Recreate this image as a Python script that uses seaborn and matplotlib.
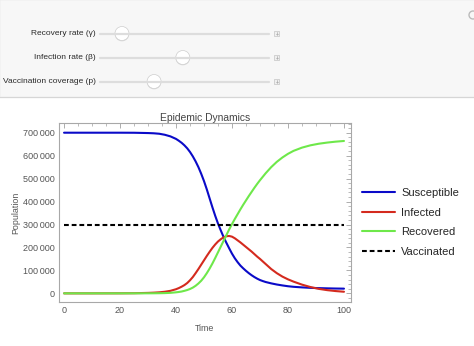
import matplotlib
matplotlib.use("Agg")
import matplotlib.pyplot as plt
from matplotlib.lines import Line2D
from matplotlib.patches import Rectangle, Circle
from matplotlib.ticker import MultipleLocator, FuncFormatter
import pandas as pd
import seaborn as sns

# Epidemic curves (time in days, population in thousands)
time = [0, 10, 20, 25, 30, 32, 34, 36, 38, 40, 41, 42, 43, 44, 45, 46, 47, 48, 49,
        50, 51, 52, 53, 54, 55, 56, 57, 58, 59, 60, 61, 62, 63, 64, 65, 66, 67, 68,
        69, 70, 71, 72, 74, 76, 78, 80, 82, 85, 88, 91, 94, 97, 100]
susceptible = [700, 700, 700, 699.8, 698.5, 697.5, 695.5, 691, 684, 673, 665, 656,
               645, 632, 616, 597, 575, 550, 521, 489, 453, 414, 375, 338, 304, 274,
               245, 220, 196, 173, 153, 136, 121, 109, 98, 88, 79, 71, 64, 58, 53.5,
               49.5, 43.5, 38.5, 34.5, 31, 28.5, 26, 24, 22.8, 21.8, 21, 20.5]
infected = [0, 0, 0.2, 0.6, 2, 3, 4.5, 7, 11, 18, 23, 29, 36, 45, 57, 71, 88, 106,
            125, 144, 163, 181, 198, 213, 226, 236, 244, 249, 250, 247, 240, 231, 222,
            212, 202, 192, 182, 171, 160, 150, 139, 128, 106, 88, 73, 61, 51, 38,
            27.5, 19.5, 14, 10, 7]
recovered = [0, 0, 0, 0.1, 0.2, 0.3, 0.6, 1.1, 2.2, 4.5, 6, 8, 11, 14.5, 19, 25, 33,
             43, 55, 70, 88, 108, 130, 154, 179, 204, 229, 254, 279, 302, 324, 345,
             366, 386, 405, 424, 442, 460, 477, 493, 508, 523, 550, 573, 592, 608,
             621, 635, 645, 652, 657, 661, 664]
vaccinated = 300
series_names = ["Susceptible", "Infected", "Recovered", "Vaccinated"]
series_colors = ["#0a0ac8", "#d42a1e", "#6ee84a", "black"]

slider_labels = ["Recovery rate (\u03b3)", "Infection rate (\u03b2)", "Vaccination coverage (p)"]
slider_positions = [0.13, 0.49, 0.32]

sns.set_theme(style="white")
plt.rcParams["font.family"] = ["Liberation Sans", "DejaVu Sans"]

W, H = 474, 346
fig = plt.figure(figsize=(W / 100, H / 100), dpi=100)
fig.patch.set_facecolor("white")

# Control panel, laid out in pixel coordinates
panel = fig.add_axes([0, 0, 1, 1], zorder=0)
panel.set_xlim(0, W)
panel.set_ylim(H, 0)
panel.axis("off")
panel.add_patch(Rectangle((-1, -1), W + 2, 98, facecolor="#f7f7f7",
                          edgecolor="#d6d6d6", lw=0.9))
track_x0, track_x1 = 100, 269
for i, (lab, pos) in enumerate(zip(slider_labels, slider_positions)):
    y = 33.5 + i * 24
    panel.text(95.5, y, lab, ha="right", va="center", fontsize=6.0, color="#2a2a2a")
    panel.plot([track_x0, track_x1], [y, y], color="#dddddd", lw=1.6,
               solid_capstyle="round")
    kx = track_x0 + pos * (track_x1 - track_x0)
    panel.add_patch(Circle((kx, y + 0.6), 7.2, facecolor="#d8d8d8", edgecolor="none"))
    panel.add_patch(Circle((kx, y), 7.0, facecolor="white", edgecolor="#cfcfcf", lw=0.5))
    panel.add_patch(Rectangle((274.5, y - 2.5), 5, 5, facecolor="#f0f0f0",
                              edgecolor="#c4c4c4", lw=0.5))
    panel.plot([275.8, 278.2], [y, y], color="#aaaaaa", lw=0.5)
    panel.plot([277, 277], [y - 1.2, y + 1.2], color="#aaaaaa", lw=0.5)
panel.add_patch(Circle((473, 15), 4, facecolor="none", edgecolor="#bbbbbb", lw=1.0))

# Main chart
ax = fig.add_axes([59 / W, 1 - 302.3 / H, (350.7 - 59) / W, (302.3 - 123.3) / H], zorder=1)
ax.set_facecolor("white")

n = len(time)
df = pd.DataFrame({
    "Time": time * 3,
    "Population": [v * 1000 for v in susceptible + infected + recovered],
    "Compartment": ["Susceptible"] * n + ["Infected"] * n + ["Recovered"] * n,
})
sns.lineplot(data=df, x="Time", y="Population", hue="Compartment",
             palette=dict(zip(series_names[:3], series_colors[:3])),
             lw=1.5, ax=ax, legend=False, sort=False)
vac = pd.DataFrame({"Time": [time[0], time[-1]],
                    "Population": [vaccinated * 1000] * 2})
sns.lineplot(data=vac, x="Time", y="Population", color="black", lw=1.5, ax=ax,
             legend=False)
ax.lines[-1].set_dashes([2.3, 1.4])

ax.set_xlim(-1.8, 102.4)
ax.set_ylim(-39000, 741000)
ax.xaxis.set_major_locator(MultipleLocator(20))
ax.xaxis.set_minor_locator(MultipleLocator(5))
ax.yaxis.set_major_locator(MultipleLocator(100000))
ax.yaxis.set_minor_locator(MultipleLocator(20000))
ax.yaxis.set_major_formatter(FuncFormatter(
    lambda v, p: f"{int(round(v)):,}".replace(",", "\u2009")))
ax.tick_params(which="both", direction="in", top=True, right=True, colors="#a0a0a0",
               labelcolor="#555555", labelsize=6.5, pad=3)
ax.tick_params(which="major", length=3.5, width=0.6)
ax.tick_params(which="minor", length=2, width=0.5)
for sp in ax.spines.values():
    sp.set_color("#a8a8a8")
    sp.set_linewidth(0.8)

ax.set_title("Epidemic Dynamics", fontsize=7.4, color="#444444", pad=2)
ax.set_xlabel("Time", fontsize=6.4, color="#555555", labelpad=6)
ax.set_ylabel("Population", fontsize=6.4, color="#555555", labelpad=2)

handles = [Line2D([0], [0], color=c, lw=1.5) for c in series_colors]
handles[-1].set_dashes([2.3, 1.4])
fig.legend(handles, series_names, loc="upper left",
           bbox_to_anchor=(352 / W, 1 - 178 / H), frameon=False, fontsize=8,
           handlelength=3.0, handletextpad=0.55, labelspacing=0.86)

fig.savefig("out.png", dpi=100)
